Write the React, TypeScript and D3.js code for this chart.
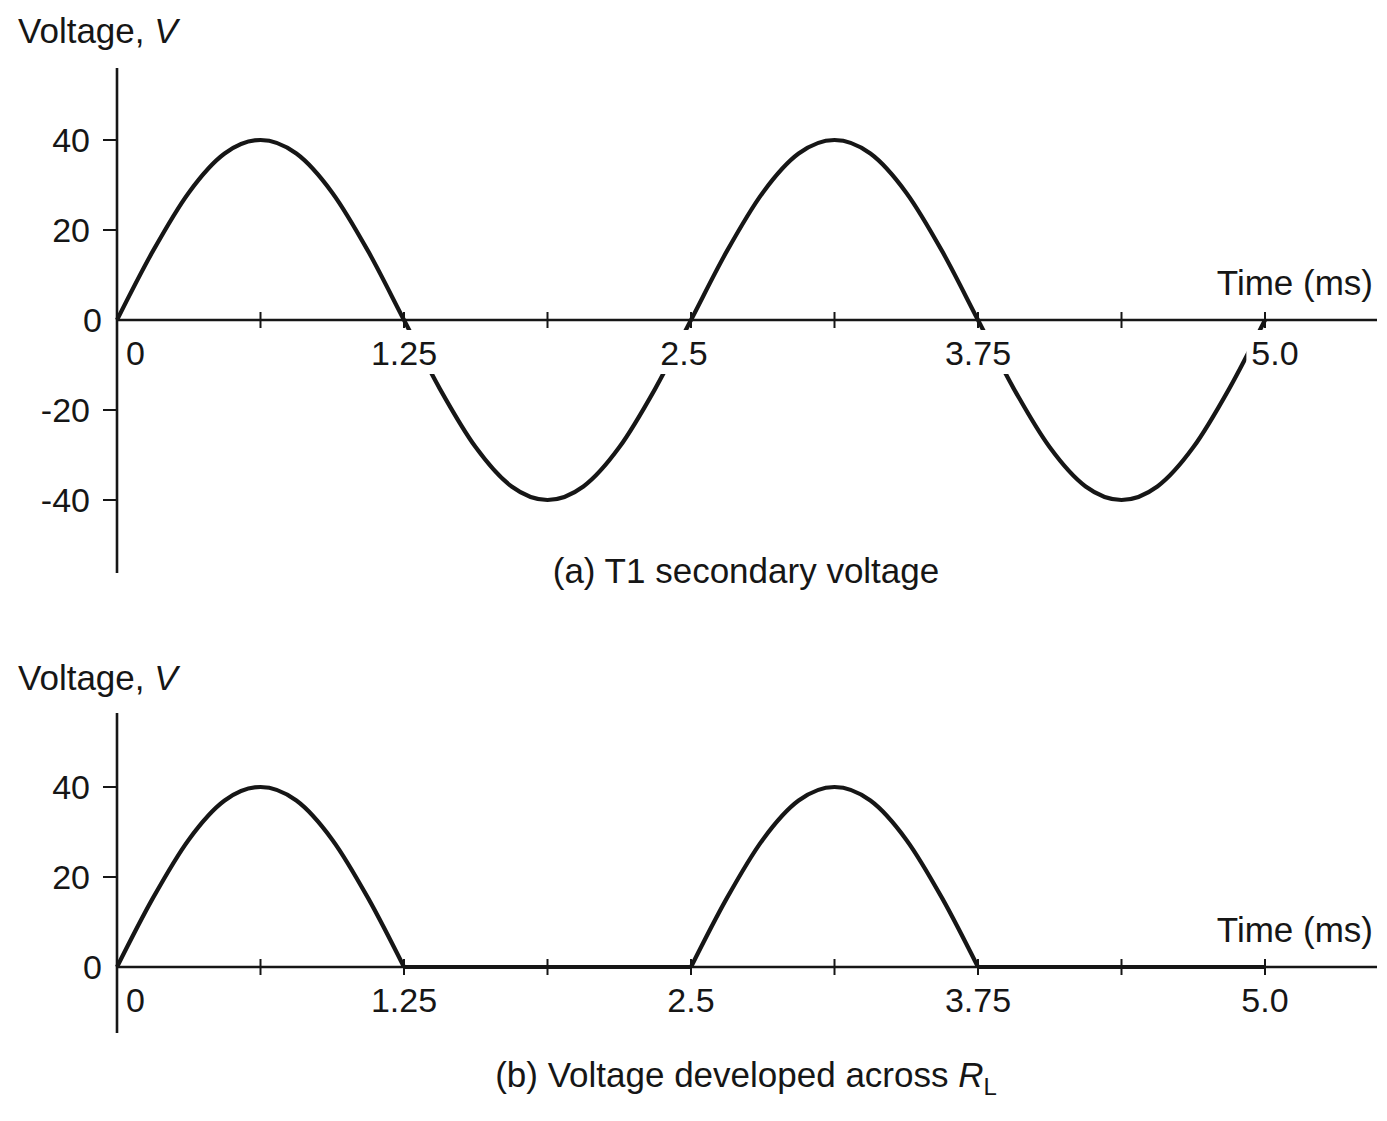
import React, { useRef, useEffect } from "react";
import * as d3 from "d3";

// sample times (ms) and voltages
export const time = [
  0, 0.15625, 0.3125, 0.46875, 0.625, 0.78125, 0.9375, 1.09375, 1.25, 1.40625,
  1.5625, 1.71875, 1.875, 2.03125, 2.1875, 2.34375, 2.5, 2.65625, 2.8125,
  2.96875, 3.125, 3.28125, 3.4375, 3.59375, 3.75, 3.90625, 4.0625, 4.21875,
  4.375, 4.53125, 4.6875, 4.84375, 5.0,
];

export const secondaryVoltage = [
  0, 15.3, 28.3, 37, 40, 37, 28.3, 15.3, 0, -15.3, -28.3, -37, -40, -37, -28.3,
  -15.3, 0, 15.3, 28.3, 37, 40, 37, 28.3, 15.3, 0, -15.3, -28.3, -37, -40, -37,
  -28.3, -15.3, 0,
];

export const loadVoltage = [
  0, 15.3, 28.3, 37, 40, 37, 28.3, 15.3, 0, 0, 0, 0, 0, 0, 0, 0, 0, 15.3, 28.3,
  37, 40, 37, 28.3, 15.3, 0, 0, 0, 0, 0, 0, 0, 0, 0,
];

export const timeTicks = [0.625, 1.25, 1.875, 2.5, 3.125, 3.75, 4.375, 5.0];
export const timeLabelValues = [0, 1.25, 2.5, 3.75, 5.0];
export const timeLabels = ["0", "1.25", "2.5", "3.75", "5.0"];
export const voltTicksA = [40, 20, 0, -20, -40];
export const voltTicksB = [40, 20, 0];

const FONT = "'Liberation Sans', Arial, Helvetica, sans-serif";
const INK = "#161616";

const App = () => {
  const ref = useRef(null);

  useEffect(() => {
    const width = 1387;
    const height = 1121;
    const svg = d3.select(ref.current).attr("width", width).attr("height", height);
    svg.selectAll("*").remove();

    svg.append("rect").attr("width", width).attr("height", height).attr("fill", "#fff");

    const x = d3.scaleLinear().domain([0, 5]).range([117, 1265]);
    const axisX = x(0);
    const axisEnd = 1377;

    const drawPanel = (opts) => {
      const { zero, values, yTicks, top, bottom, captionY, caption, labelShift } = opts;
      const y = d3.scaleLinear().domain([-40, 40]).range([zero + 180, zero - 180]);
      const g = svg.append("g").style("font-family", FONT).attr("fill", INK);

      // axes
      g.append("line")
        .attr("x1", axisX).attr("x2", axisX)
        .attr("y1", top).attr("y2", bottom)
        .attr("stroke", INK).attr("stroke-width", 2.6);
      g.append("line")
        .attr("x1", axisX).attr("x2", axisEnd)
        .attr("y1", y(0)).attr("y2", y(0))
        .attr("stroke", INK).attr("stroke-width", 2.6);

      g.selectAll(".ytick")
        .data(yTicks.filter((v) => v !== 0))
        .enter()
        .append("line")
        .attr("x1", axisX - 14).attr("x2", axisX)
        .attr("y1", (d) => y(d)).attr("y2", (d) => y(d))
        .attr("stroke", INK).attr("stroke-width", 2);

      g.selectAll(".xtick")
        .data(timeTicks)
        .enter()
        .append("line")
        .attr("x1", (d) => x(d)).attr("x2", (d) => x(d))
        .attr("y1", y(0) - 8).attr("y2", y(0) + 8)
        .attr("stroke", INK).attr("stroke-width", 2);

      // trace: curved pulses plus flat stretches at zero
      const pts = time.map((t, i) => ({ t, v: values[i], i }));
      const nz = (i) => values[i] !== undefined && values[i] !== 0;
      const z = (i) => values[i] === 0;

      const curved = d3.line()
        .defined((d) => nz(d.i) || nz(d.i - 1) || nz(d.i + 1))
        .x((d) => x(d.t))
        .y((d) => y(d.v))
        .curve(d3.curveMonotoneX);
      const flat = d3.line()
        .defined((d) => z(d.i) && (z(d.i - 1) || z(d.i + 1)))
        .x((d) => x(d.t))
        .y((d) => y(d.v));

      [curved, flat].forEach((gen) => {
        g.append("path")
          .attr("d", gen(pts))
          .attr("fill", "none")
          .attr("stroke", INK)
          .attr("stroke-width", 4.2)
          .attr("stroke-linejoin", "round");
      });

      // x labels on white boxes
      timeLabelValues.forEach((v, i) => {
        const lg = g.append("g");
        const isZero = v === 0;
        const t = lg.append("text")
          .attr("x", isZero ? axisX + 9 : x(v) + labelShift[i])
          .attr("y", y(0) + 45)
          .attr("text-anchor", isZero ? "start" : "middle")
          .style("font-size", "34px")
          .text(timeLabels[i]);
        const b = t.node().getBBox();
        lg.insert("rect", "text")
          .attr("x", b.x - 5)
          .attr("y", b.y - 4)
          .attr("width", b.width + 10)
          .attr("height", b.height + 6)
          .attr("fill", "#fff");
      });

      g.selectAll(".ylab")
        .data(yTicks)
        .enter()
        .append("text")
        .attr("x", (d) => (d === 0 ? axisX - 15 : axisX - 27))
        .attr("y", (d) => y(d))
        .attr("dy", "0.36em")
        .attr("text-anchor", "end")
        .style("font-size", "34px")
        .text((d) => String(d));

      const yt = g.append("text")
        .attr("x", 18)
        .attr("y", zero - 277)
        .style("font-size", "35px");
      yt.append("tspan").text("Voltage, ");
      yt.append("tspan").style("font-style", "italic").text("V");

      g.append("text")
        .attr("x", 1373)
        .attr("y", zero - 25)
        .attr("text-anchor", "end")
        .style("font-size", "35px")
        .text("Time (ms)");

      const cap = g.append("text")
        .attr("x", 746)
        .attr("y", captionY)
        .attr("text-anchor", "middle")
        .style("font-size", "35px");
      caption(cap);
    };

    drawPanel({
      zero: 320,
      values: secondaryVoltage,
      yTicks: voltTicksA,
      top: 68,
      bottom: 573,
      captionY: 583,
      labelShift: [0, 0, -7, 0, 10],
      caption: (t) => t.text("(a) T1 secondary voltage"),
    });

    drawPanel({
      zero: 967,
      values: loadVoltage,
      yTicks: voltTicksB,
      top: 713,
      bottom: 1033,
      captionY: 1087,
      labelShift: [0, 0, 0, 0, 0],
      caption: (t) => {
        t.append("tspan").text("(b) Voltage developed across ");
        t.append("tspan").style("font-style", "italic").text("R");
        t.append("tspan").attr("dy", 8).style("font-size", "24px").text("L");
      },
    });
  }, []);

  return (
    <svg
      ref={ref}
      style={{ position: "absolute", left: 0, top: 0, display: "block" }}
    ></svg>
  );
};

export default App;
